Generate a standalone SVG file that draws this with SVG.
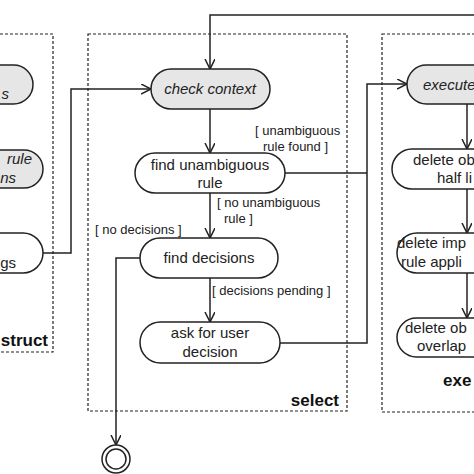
<svg xmlns="http://www.w3.org/2000/svg" width="474" height="474" viewBox="0 0 474 474">
<style>
.frame{fill:none;stroke:#222;stroke-width:1.2;stroke-dasharray:3,2}
.node{stroke:#222;stroke-width:1.5;fill:#fff}
.act{stroke:#222;stroke-width:1.5;fill:#e6e6e6}
.t{font-family:"Liberation Sans",Arial,sans-serif;font-size:15px;fill:#222}
.i{font-style:italic}
.c{text-anchor:middle}
.e{text-anchor:end}
.lbl{font-family:"Liberation Sans",Arial,sans-serif;font-size:13px;fill:#222}
.b{font-family:"Liberation Sans",Arial,sans-serif;font-size:17px;font-weight:bold;fill:#111}
.conn{fill:none;stroke:#222;stroke-width:1.5}
</style>
<defs>
<marker id="arr" markerUnits="userSpaceOnUse" markerWidth="12" markerHeight="12" refX="10" refY="5" orient="auto">
<path d="M0,0 L10,5 L0,10" fill="none" stroke="#222" stroke-width="1.5"/>
</marker>
</defs>
<rect width="474" height="474" fill="#fff"/>
<g id="frames">
<rect class="frame" x="-20" y="34" width="73" height="318"/>
<rect class="frame" x="88" y="34" width="259" height="377"/>
<rect class="frame" x="382" y="34" width="120" height="378"/>
<text class="b e" x="48" y="346">struct</text>
<text class="b e" x="339" y="406">select</text>
<text class="b" x="443" y="386">exe</text>
</g>
<g id="connectors">
<path class="conn" d="M474,15 H210 V69" marker-end="url(#arr)"/>
<path class="conn" d="M43,253 H71 V89 H151" marker-end="url(#arr)"/>
<path class="conn" d="M210,109 V153" marker-end="url(#arr)"/>
<path class="conn" d="M210,193 V238" marker-end="url(#arr)"/>
<path class="conn" d="M210,278 V322" marker-end="url(#arr)"/>
<path class="conn" d="M140,258 H116 V445" marker-end="url(#arr)"/>
<path class="conn" d="M285,173 H367"/>
<path class="conn" d="M280,343 H367 V84 H407" marker-end="url(#arr)"/>
<path class="conn" d="M467,104 V149" marker-end="url(#arr)"/>
<path class="conn" d="M467,189 V233" marker-end="url(#arr)"/>
<path class="conn" d="M467,273 V318" marker-end="url(#arr)"/>
<text class="lbl" x="255" y="135">[ unambiguous</text>
<text class="lbl" x="263" y="151">rule found ]</text>
<text class="lbl" x="217" y="207">[ no unambiguous</text>
<text class="lbl" x="224" y="223">rule ]</text>
<text class="lbl" x="95" y="234">[ no decisions ]</text>
<text class="lbl" x="212" y="295">[ decisions pending ]</text>
</g>
<g id="n-left1"><rect class="act" x="-60" y="65" width="93" height="39" rx="19.5"/><text class="t i e" x="9" y="99">s</text></g>
<g id="n-left2"><rect class="act" x="-60" y="150" width="103" height="38" rx="19"/><text class="t i e" x="32" y="164">rule</text><text class="t i e" x="16" y="183">ns</text></g>
<g id="n-left3"><rect class="node" x="-60" y="233" width="103" height="40" rx="20"/><text class="t e" x="16" y="268">gs</text></g>
<g id="n-check"><rect class="act" x="151" y="69" width="119" height="40" rx="20"/><text class="t i c" x="210" y="94">check context</text></g>
<g id="n-unamb"><rect class="node" x="135" y="153" width="150" height="40" rx="20"/><text class="t c" x="210" y="170">find unambiguous</text><text class="t c" x="210" y="188">rule</text></g>
<g id="n-find"><rect class="node" x="140" y="238" width="138" height="40" rx="20"/><text class="t c" x="209" y="263">find decisions</text></g>
<g id="n-ask"><rect class="node" x="140" y="322" width="140" height="41" rx="20.5"/><text class="t c" x="210" y="338">ask for user</text><text class="t c" x="210" y="357">decision</text></g>
<g id="n-end"><circle cx="116" cy="459" r="14" fill="#fff" stroke="#222" stroke-width="1.5"/><circle cx="116" cy="459" r="10" fill="#fff" stroke="#222" stroke-width="1.5"/></g>
<g id="n-exec"><rect class="act" x="407" y="65" width="120" height="39" rx="19.5"/><text class="t i" x="423" y="90">execute</text></g>
<g id="n-del1"><rect class="node" x="392" y="149" width="140" height="40" rx="20"/><text class="t" x="413" y="165">delete ob</text><text class="t" x="437" y="183">half li</text></g>
<g id="n-del2"><rect class="node" x="397" y="233" width="140" height="40" rx="20"/><text class="t" x="397" y="248">delete imp</text><text class="t" x="401" y="267">rule appli</text></g>
<g id="n-del3"><rect class="node" x="397" y="318" width="140" height="39" rx="19.5"/><text class="t" x="405" y="333">delete ob</text><text class="t" x="417" y="351">overlap</text></g>
</svg>
